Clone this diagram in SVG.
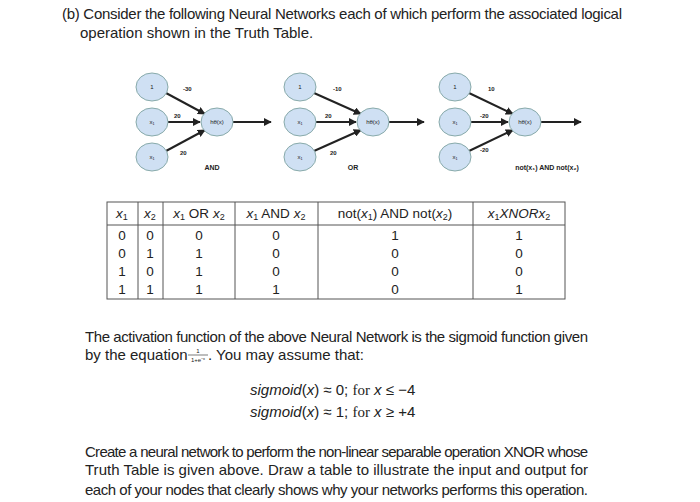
<svg xmlns="http://www.w3.org/2000/svg" width="700" height="502" viewBox="0 0 700 502">
<style>
text{font-family:"Liberation Sans",Arial,sans-serif;fill:#222}
.p{font-size:15px}
.n{fill:#cfe0f3;stroke:#8aa;stroke-width:1}
.nt{font-size:6px;text-anchor:middle}
.w{font-size:6px;font-weight:bold}
.lb{font-size:7px;font-weight:bold;text-anchor:middle}
.e{stroke:#222;stroke-width:2;fill:none;marker-end:url(#a)}
.t{font-size:13.5px;text-anchor:middle}
.s{font-size:9px}
.tl{stroke:#555;stroke-width:1}
</style>
<defs><marker id="a" viewBox="0 0 10 10" refX="9" refY="5" markerWidth="4" markerHeight="4" orient="auto"><path d="M0,0L10,5L0,10z" fill="#222"/></marker></defs>
<rect width="700" height="502" fill="#fff"/>
<text class="p" x="62" y="19" textLength="560" lengthAdjust="spacing">(b) Consider the following Neural Networks each of which perform the associated logical</text>
<text class="p" x="80" y="38">operation shown in the Truth Table.</text>

<g id="connectors">
<line class="e" x1="166" y1="93" x2="205" y2="114"/>
<line class="e" x1="168" y1="122" x2="200" y2="122"/>
<line class="e" x1="166" y1="151" x2="205" y2="130"/>
<line class="e" x1="233" y1="122" x2="271" y2="122"/>
<line class="e" x1="314" y1="93" x2="361" y2="114"/>
<line class="e" x1="316" y1="122" x2="356" y2="122"/>
<line class="e" x1="314" y1="151" x2="361" y2="130"/>
<line class="e" x1="389" y1="122" x2="424" y2="122"/>
<line class="e" x1="469" y1="93" x2="513" y2="114"/>
<line class="e" x1="471" y1="122" x2="508" y2="122"/>
<line class="e" x1="469" y1="151" x2="513" y2="130"/>
<line class="e" x1="541" y1="122" x2="581" y2="122"/>
</g>
<g id="weights">
<text class="w" x="183" y="91">-30</text><text class="w" x="174" y="118">20</text><text class="w" x="180" y="155">20</text>
<text class="w" x="333" y="91">-10</text><text class="w" x="325" y="118">20</text><text class="w" x="330" y="155">20</text>
<text class="w" x="488" y="91">10</text><text class="w" x="480" y="118">-20</text><text class="w" x="480" y="152">-20</text>
</g>
<g id="net1">
<ellipse class="n" cx="152" cy="87" rx="16" ry="14"/><text class="nt" x="152" y="89">1</text>
<ellipse class="n" cx="152" cy="122" rx="16" ry="14"/><text class="nt" x="152" y="124">x₁</text>
<ellipse class="n" cx="152" cy="157" rx="16" ry="14"/><text class="nt" x="152" y="159">x₁</text>
<ellipse class="n" cx="217" cy="122" rx="16" ry="14"/><text class="nt" x="217" y="124">hθ(x)</text>
<text class="lb" x="212" y="170">AND</text>
</g>
<g id="net2">
<ellipse class="n" cx="300" cy="87" rx="16" ry="14"/><text class="nt" x="300" y="89">1</text>
<ellipse class="n" cx="300" cy="122" rx="16" ry="14"/><text class="nt" x="300" y="124">x₁</text>
<ellipse class="n" cx="300" cy="157" rx="16" ry="14"/><text class="nt" x="300" y="159">x₁</text>
<ellipse class="n" cx="373" cy="122" rx="16" ry="14"/><text class="nt" x="373" y="124">hθ(x)</text>
<text class="lb" x="353" y="170">OR</text>
</g>
<g id="net3">
<ellipse class="n" cx="455" cy="87" rx="16" ry="14"/><text class="nt" x="455" y="89">1</text>
<ellipse class="n" cx="455" cy="122" rx="16" ry="14"/><text class="nt" x="455" y="124">x₁</text>
<ellipse class="n" cx="455" cy="157" rx="16" ry="14"/><text class="nt" x="455" y="159">x₁</text>
<ellipse class="n" cx="525" cy="122" rx="16" ry="14"/><text class="nt" x="525" y="124">hθ(x)</text>
<text class="lb" x="547" y="170">not(x₁) AND not(x₂)</text>
</g>

<g id="table">
<rect x="107" y="202" width="458" height="97" fill="none" class="tl"/>
<line class="tl" x1="107" y1="225" x2="565" y2="225"/>
<line class="tl" x1="138" y1="202" x2="138" y2="299"/>
<line class="tl" x1="163" y1="202" x2="163" y2="299"/>
<line class="tl" x1="235" y1="202" x2="235" y2="299"/>
<line class="tl" x1="318" y1="202" x2="318" y2="299"/>
<line class="tl" x1="473" y1="202" x2="473" y2="299"/>
<text class="t" x="122" y="218"><tspan font-style="italic">x</tspan><tspan class="s" dy="2">1</tspan></text>
<text class="t" x="150" y="218"><tspan font-style="italic">x</tspan><tspan class="s" dy="2">2</tspan></text>
<text class="t" x="199" y="218"><tspan font-style="italic">x</tspan><tspan class="s" dy="2">1</tspan><tspan dy="-2"> OR </tspan><tspan font-style="italic">x</tspan><tspan class="s" dy="2">2</tspan></text>
<text class="t" x="276" y="218"><tspan font-style="italic">x</tspan><tspan class="s" dy="2">1</tspan><tspan dy="-2"> AND </tspan><tspan font-style="italic">x</tspan><tspan class="s" dy="2">2</tspan></text>
<text class="t" x="395" y="218">not(<tspan font-style="italic">x</tspan><tspan class="s" dy="2">1</tspan><tspan dy="-2">) AND not(</tspan><tspan font-style="italic">x</tspan><tspan class="s" dy="2">2</tspan><tspan dy="-2">)</tspan></text>
<text class="t" x="519" y="218"><tspan font-style="italic">x</tspan><tspan class="s" dy="2">1</tspan><tspan font-style="italic" dy="-2">XNORx</tspan><tspan class="s" dy="2">2</tspan></text>
<text class="t" y="240"><tspan x="122">0</tspan><tspan x="150">0</tspan><tspan x="199">0</tspan><tspan x="276">0</tspan><tspan x="395">1</tspan><tspan x="519">1</tspan></text>
<text class="t" y="258"><tspan x="122">0</tspan><tspan x="150">1</tspan><tspan x="199">1</tspan><tspan x="276">0</tspan><tspan x="395">0</tspan><tspan x="519">0</tspan></text>
<text class="t" y="276"><tspan x="122">1</tspan><tspan x="150">0</tspan><tspan x="199">1</tspan><tspan x="276">0</tspan><tspan x="395">0</tspan><tspan x="519">0</tspan></text>
<text class="t" y="294"><tspan x="122">1</tspan><tspan x="150">1</tspan><tspan x="199">1</tspan><tspan x="276">1</tspan><tspan x="395">0</tspan><tspan x="519">1</tspan></text>
</g>

<text class="p" x="85" y="342" textLength="503" lengthAdjust="spacing">The activation function of the above Neural Network is the sigmoid function given</text>
<text class="p" x="85" y="360">by the equation</text>
<text x="198" y="353" font-size="6" text-anchor="middle">1</text>
<line x1="188" y1="355" x2="208" y2="355" stroke="#222" stroke-width="0.6"/>
<text x="198" y="362" font-size="6" text-anchor="middle">1+e⁻ˣ</text>
<text class="p" x="208" y="360">.  You may assume that:</text>
<text class="p" x="250" y="395"><tspan font-style="italic">sigmoid</tspan>(<tspan font-style="italic">x</tspan>) ≈ 0; <tspan font-family="Liberation Serif,serif">for</tspan> <tspan font-style="italic">x</tspan> ≤ −4</text>
<text class="p" x="250" y="417"><tspan font-style="italic">sigmoid</tspan>(<tspan font-style="italic">x</tspan>) ≈ 1; <tspan font-family="Liberation Serif,serif">for</tspan> <tspan font-style="italic">x</tspan> ≥ +4</text>
<text class="p" x="85" y="457" textLength="503" lengthAdjust="spacing">Create a neural network to perform the non-linear separable operation XNOR whose</text>
<text class="p" x="85" y="475" textLength="503" lengthAdjust="spacing">Truth Table is given above.  Draw a table to illustrate the input and output for</text>
<text class="p" x="85" y="495" textLength="503" lengthAdjust="spacing">each of your nodes that clearly shows why your networks performs this operation.</text>
</svg>
